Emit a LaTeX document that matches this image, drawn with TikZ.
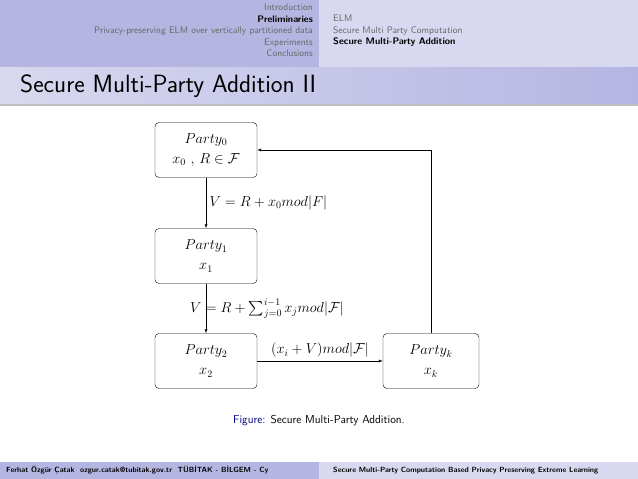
\documentclass[tikz,border=0pt]{standalone}
\usepackage{amssymb}
\usetikzlibrary{positioning}
\definecolor{hdark}{RGB}{181,181,226}
\definecolor{hlight}{RGB}{216,216,240}
\tikzset{
  party/.style={draw, rounded corners=4pt, minimum width=102pt, minimum height=55pt, align=center, font=\fontsize{14.5}{20}\selectfont},
  flow/.style={-latex},
  lbl/.style={font=\fontsize{14.5}{17}\selectfont}
}
\begin{document}
\begin{tikzpicture}[x=1pt,y=-1pt]
    \useasboundingbox (0,0) rectangle (638,479);
    % header and title bar
    \fill[hdark] (0,0) rectangle (319,67);
    \fill[hlight] (319,0) rectangle (638,67);
    \shade[left color=hlight, right color=hdark] (0,67) rectangle (638,104);
    \fill[black!25] (0,104) rectangle (638,106);
    \node[anchor=north east, align=right, font=\sffamily\fontsize{9.5}{11.5}\selectfont, text=black!60, inner sep=0] (secs) at (313,4)
        {Introduction\\ \textcolor{black}{\bfseries Preliminaries}\\ Privacy-preserving ELM over vertically partitioned data\\ Experiments\\ Conclusions};
    \node[anchor=north west, align=left, font=\sffamily\fontsize{9.5}{11.5}\selectfont, text=black!60, inner sep=0] (subsecs) at (333,15)
        {ELM\\ Secure Multi Party Computation\\ \textcolor{black}{\bfseries Secure Multi-Party Addition}};
    \node[anchor=west, font=\sffamily\fontsize{25}{28}\selectfont, inner sep=0] (title) at (20,86) {Secure Multi-Party Addition II};
    % parties
    \node[party] (p0) at (206,150) {$Party_0$\\ $x_0$ , $R \in \mathcal{F}$};
    \node[party] (p1) at (206,256) {$Party_1$\\ $x_1$};
    \node[party] (p2) at (206,361) {$Party_2$\\ $x_2$};
    \node[party, minimum width=96pt] (pk) at (431,361) {$Party_k$\\ $x_k$};
    \draw[flow] (p0) -- node[lbl, right] {$V = R + x_0 mod|F|$} (p1);
    \draw[flow] (p1) -- node[lbl, anchor=west, xshift=-16pt, inner sep=0] {$V = R + \sum_{j=0}^{i-1} x_j mod|\mathcal{F}|$} (p2);
    \draw[flow] (p2) -- node[lbl, above] {$(x_i+V)mod|\mathcal{F}|$} (pk);
    \draw[flow] (pk.north) |- (p0.east);
    % caption
    \node[font=\sffamily\fontsize{11.5}{13}\selectfont] (cap) at (319,421) {\textcolor{blue!50!black}{Figure:} Secure Multi-Party Addition.};
    % footer
    \fill[hdark] (0,462) rectangle (319,479);
    \fill[hlight] (319,462) rectangle (638,479);
    \node[anchor=west, font=\sffamily\bfseries\fontsize{7.5}{9}\selectfont, inner sep=0] (auth) at (6,470.5)
        {Ferhat Özgür Çatak \ ozgur.catak@tubitak.gov.tr \ TÜBİTAK - BİLGEM - Cy};
    \node[anchor=west, font=\sffamily\bfseries\fontsize{7.5}{9}\selectfont, inner sep=0] (ftitle) at (333,470.5)
        {Secure Multi-Party Computation Based Privacy Preserving Extreme Learning};
\end{tikzpicture}
\end{document}
